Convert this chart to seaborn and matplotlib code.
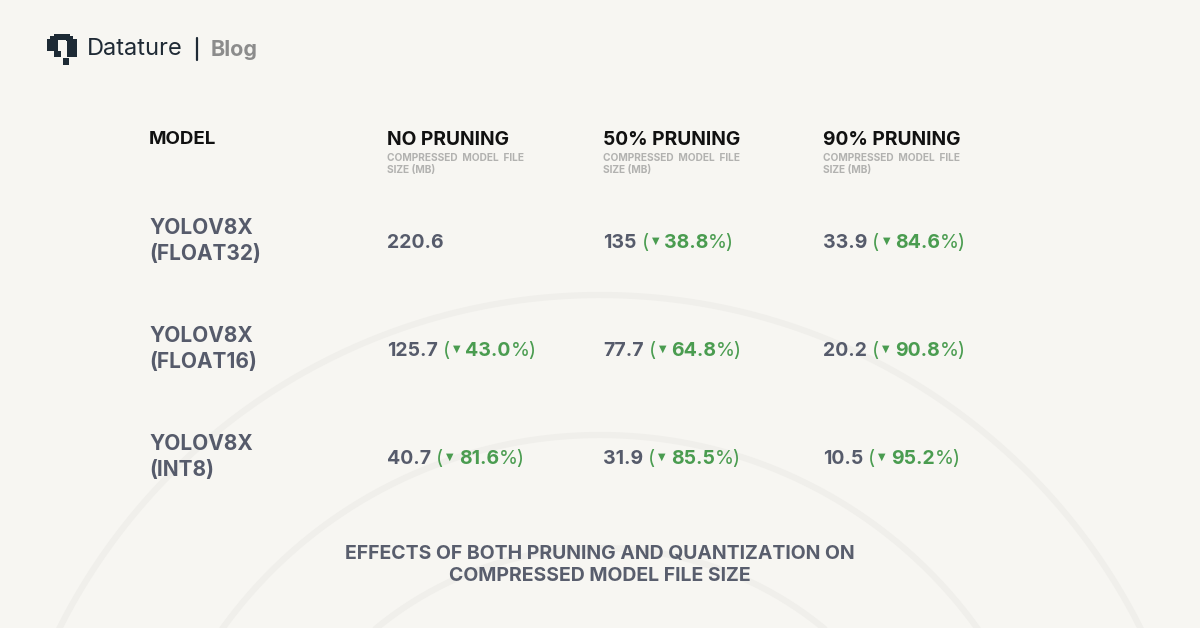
import seaborn as sns
import numpy as np
import matplotlib.pyplot as plt
from matplotlib.patches import Rectangle

# data
models = ["YOLOV8X\n(FLOAT32)", "YOLOV8X\n(FLOAT16)", "YOLOV8X\n(INT8)"]
columns = ["NO PRUNING", "50% PRUNING", "90% PRUNING"]
sizes = [[220.6, 135, 33.9],
         [125.7, 77.7, 20.2],
         [40.7, 31.9, 10.5]]
reductions = [[None, 38.8, 84.6],
              [43.0, 64.8, 90.8],
              [81.6, 85.5, 95.2]]
subheader = "COMPRESSED  MODEL  FILE\nSIZE (MB)"
caption = "EFFECTS OF BOTH PRUNING AND QUANTIZATION ON\nCOMPRESSED MODEL FILE SIZE"

BG = "#f7f6f2"
GRAY = "#565b6b"
GREEN = "#4a9c50"

sns.set_theme(style="white", rc={"axes.facecolor": BG, "figure.facecolor": BG})
plt.rcParams["font.family"] = ["Inter", "DejaVu Sans"]

fig = plt.figure(figsize=(12, 6.28), dpi=100)
ax = fig.add_axes([0, 0, 1, 1])
ax.set_xlim(0, 1200)
ax.set_ylim(628, 0)
ax.axis("off")

# faint background arcs
t = np.linspace(0, 2 * np.pi, 400)
for r in [605, 465, 352]:
    ax.plot(600 + r * np.cos(t), 900 + r * np.sin(t), color="#f0efeb", lw=4.5, zorder=0)

# logo
for (x0, y0, w, h) in [(54, 34, 16, 6), (47, 39, 11, 12), (67, 39, 10, 18),
                       (54, 51, 7, 6), (63, 58, 6, 7), (50, 36, 6, 5), (66, 36, 7, 5)]:
    ax.add_patch(Rectangle((x0, y0), w, h, color="#1d2a35", lw=0))
ax.text(87, 49, "Datature", fontsize=17, color="#1f2a35", va="center", ha="left")
ax.plot([197, 197], [38, 60], color="#1f2a35", lw=1.6)
ax.text(211, 50, "Blog", fontsize=15.5, color="#8c8c8c", va="center", ha="left",
        fontweight="bold")

col_x = [387, 603, 823]
label_x = 149
row_y = [241, 349, 457]

ax.text(label_x, 140, "MODEL", fontsize=13.5, fontweight="bold", color="#111111",
        va="center", ha="left")
for j, name in enumerate(columns):
    ax.text(col_x[j], 140, name, fontsize=13.8, fontweight="bold", color="#111111",
            va="center", ha="left")
    ax.text(col_x[j], 164, subheader, fontsize=7.3, fontweight="bold", color="#b2b2b0",
            va="center", ha="left", linespacing=1.2)

fig.canvas.draw()
renderer = fig.canvas.get_renderer()
inv = ax.transData.inverted()


def put(x, y, s, **kw):
    txt = ax.text(x, y, s, va="center_baseline", ha="left", **kw)
    bb = txt.get_window_extent(renderer)
    return inv.transform((bb.x1, bb.y0))[0]


for i, m in enumerate(models):
    ax.text(label_x, row_y[i], m, fontsize=15, fontweight="bold", color=GRAY,
            va="center", ha="left", linespacing=1.35)
    for j in range(len(columns)):
        x = put(col_x[j], row_y[i], f"{sizes[i][j]:g}", fontsize=14,
                fontweight="bold", color=GRAY)
        red = reductions[i][j]
        if red is None:
            continue
        x = put(x + 5, row_y[i], "(", fontsize=14, color=GREEN)
        x = put(x + 3, row_y[i] - 1, "\u25bc", fontsize=7, color=GREEN,
                family="DejaVu Sans")
        x = put(x + 5, row_y[i], f"{red:.1f}", fontsize=14, fontweight="bold",
                color=GREEN)
        put(x, row_y[i], "%)", fontsize=14, color=GREEN)

ax.text(600, 565, caption, fontsize=14, fontweight="bold", color="#595e6d",
        va="center", ha="center", linespacing=1.3)

fig.savefig("out.png", dpi=100, facecolor=BG)
